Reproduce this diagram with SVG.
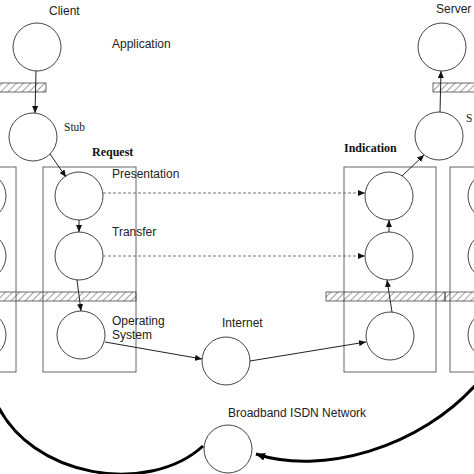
<svg xmlns="http://www.w3.org/2000/svg" width="474" height="474" viewBox="0 0 474 474">
<defs>
<pattern id="hatch" patternUnits="userSpaceOnUse" width="5" height="5" patternTransform="rotate(45)">
<line x1="0" y1="0" x2="0" y2="5" stroke="#444" stroke-width="1"/>
</pattern>
<marker id="ah" markerUnits="userSpaceOnUse" markerWidth="8" markerHeight="6" refX="7" refY="3" orient="auto">
<path d="M0,0 L7,3 L0,6 Z" fill="#111"/>
</marker>
<marker id="ahb" markerUnits="userSpaceOnUse" markerWidth="10" markerHeight="8" refX="9" refY="4" orient="auto">
<path d="M0,0 L9,4 L0,8 Z" fill="#000"/>
</marker>
<style>
.c{fill:#fff;stroke:#444;stroke-width:1}
.box{fill:#fff;stroke:#666;stroke-width:1}
.h{fill:url(#hatch);stroke:#444;stroke-width:0.8}
.a{stroke:#222;stroke-width:1;fill:none;marker-end:url(#ah)}
.d{stroke:#777;stroke-width:1;stroke-dasharray:3,2;fill:none;marker-end:url(#ah)}
.t{font-family:"Liberation Sans",Arial,sans-serif;font-size:12px;fill:#222}
.s{font-family:"Liberation Serif","Times New Roman",serif;font-size:11.5px;fill:#222}
.b{font-family:"Liberation Serif","Times New Roman",serif;font-size:12px;font-weight:bold;fill:#111}
.thick{stroke:#000;stroke-width:3;fill:none}
</style>
</defs>
<g id="layers">
<rect class="box" x="-80" y="167" width="96" height="205"/>
<rect class="box" x="43" y="167" width="93" height="205"/>
<rect class="box" x="344" y="167" width="92" height="205"/>
<rect class="box" x="450" y="167" width="100" height="205"/>
<rect class="h" x="-5" y="83" width="51" height="9"/>
<rect class="h" x="433" y="83" width="50" height="9"/>
<rect class="h" x="-5" y="292" width="141" height="9"/>
<rect class="h" x="326" y="292" width="119" height="9"/>
<rect class="h" x="445" y="292" width="40" height="9"/>
</g>
<g id="partial-nodes">
<circle class="c" cx="-18" cy="196" r="24"/>
<circle class="c" cx="-18" cy="256" r="24"/>
<circle class="c" cx="-18" cy="335" r="24"/>
<circle class="c" cx="492" cy="196" r="24"/>
<circle class="c" cx="492" cy="256" r="24"/>
<circle class="c" cx="492" cy="335" r="24"/>
</g>
<g id="client"><circle class="c" cx="37" cy="47" r="24"/></g>
<g id="client-stub"><circle class="c" cx="33" cy="137" r="24"/></g>
<g id="l-presentation"><circle class="c" cx="79" cy="196" r="24"/></g>
<g id="l-transfer"><circle class="c" cx="79" cy="256" r="24"/></g>
<g id="l-os"><circle class="c" cx="81" cy="335" r="24"/></g>
<g id="internet"><circle class="c" cx="226" cy="361" r="24"/></g>
<g id="bisdn"><circle class="c" cx="228" cy="449" r="24"/></g>
<g id="r-os"><circle class="c" cx="390" cy="336" r="24"/></g>
<g id="r-transfer"><circle class="c" cx="389" cy="256" r="24"/></g>
<g id="r-presentation"><circle class="c" cx="389" cy="196" r="24"/></g>
<g id="server-stub"><circle class="c" cx="439" cy="136" r="24"/></g>
<g id="server"><circle class="c" cx="442" cy="47" r="24"/></g>
<g id="connectors">
<line class="a" x1="36" y1="71" x2="35" y2="113"/>
<line class="a" x1="50" y1="154" x2="66" y2="177"/>
<line class="a" x1="79" y1="220" x2="79" y2="232"/>
<line class="a" x1="77" y1="280" x2="81" y2="311"/>
<line class="a" x1="105" y1="342" x2="202" y2="359"/>
<line class="a" x1="250" y1="361" x2="366" y2="342"/>
<line class="a" x1="392" y1="312" x2="387" y2="280"/>
<line class="a" x1="389" y1="232" x2="389" y2="220"/>
<line class="a" x1="402" y1="176" x2="424" y2="155"/>
<line class="a" x1="440" y1="112" x2="441" y2="71"/>
<line class="d" x1="103" y1="193" x2="365" y2="193"/>
<line class="d" x1="103" y1="256" x2="365" y2="256"/>
<path class="thick" d="M-5,400 C30,480 150,495 203,446"/>
<path class="thick" d="M480,380 C420,450 320,475 256,454" marker-end="url(#ahb)"/>
</g>
<g id="labels">
<text class="t" x="49" y="15">Client</text>
<text class="t" x="112" y="48">Application</text>
<text class="s" x="64" y="131">Stub</text>
<text class="b" x="92" y="156">Request</text>
<text class="t" x="112" y="178">Presentation</text>
<text class="t" x="112" y="236">Transfer</text>
<text class="t" x="112" y="325">Operating</text>
<text class="t" x="112" y="339">System</text>
<text class="t" x="222" y="327">Internet</text>
<text class="t" x="228" y="417">Broadband ISDN Network</text>
<text class="b" x="344" y="152">Indication</text>
<text class="t" x="436" y="13">Server</text>
<text class="s" x="466" y="122">S</text>
</g>
</svg>
